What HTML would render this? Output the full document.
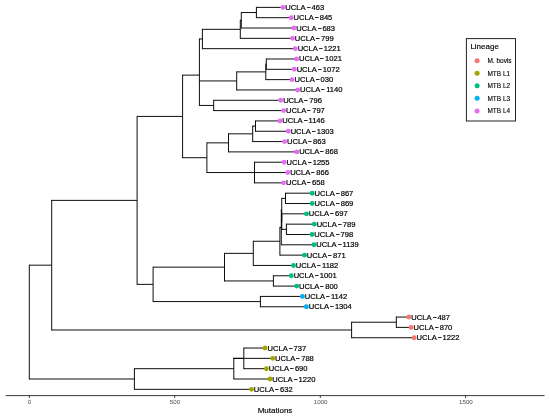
<!DOCTYPE html>
<html lang="en"><head><meta charset="utf-8"><title>Phylogenetic tree</title>
<style>
html,body{margin:0;padding:0;background:#fff}
#c{position:relative;width:550px;height:417px;overflow:hidden;background:#fff;font-family:"Liberation Sans",sans-serif;color:#000}
#c div{position:absolute;white-space:nowrap;margin:0;padding:0}
.tl{font-size:7.6px;line-height:10px;height:10px;-webkit-text-stroke:.2px #000}
.m{display:inline-block;width:.771em;text-align:center;transform:translate(-.01em,-.067em) scale(1.78,1.2);-webkit-text-stroke:.06px #000}
.tk{font-size:6.2px;line-height:8px;width:40px;text-align:center;color:#4d4d4d}
.lg{font-size:6.5px;line-height:10px;-webkit-text-stroke:.12px #000}
.lt{font-size:8px;line-height:10px;-webkit-text-stroke:.15px #000}
.xt{font-size:8px;line-height:10px;width:100px;text-align:center;-webkit-text-stroke:.15px #000}
</style></head><body>
<div id="c">
<svg width="550" height="417" viewBox="0 0 550 417" style="position:absolute;left:0;top:0">
<path d="M256.40 6.91V18.18M256.40 7.38H283.00M256.40 17.70H291.20M241.30 12.07V28.50M241.30 12.54H256.40M241.30 28.03H293.90M240.30 19.81V38.82M240.30 20.28H241.30M240.30 38.35H292.50M202.40 28.84V49.15M202.40 29.32H240.30M202.40 48.67H295.30M266.30 58.52V69.79M266.30 59.00H296.60M266.30 69.32H294.30M265.80 63.68V80.12M265.80 64.16H266.30M265.80 79.64H292.10M236.70 71.42V90.44M236.70 71.90H265.80M236.70 89.96H297.70M213.70 99.81V111.08M213.70 100.29H280.80M213.70 110.61H283.70M199.40 38.52V105.92M199.40 38.99H202.40M199.40 80.93H236.70M199.40 105.45H213.70M255.50 120.46V131.73M255.50 120.93H280.00M255.50 131.26H288.30M252.70 125.62V142.05M252.70 126.09H255.50M252.70 141.58H284.60M228.50 133.36V152.38M228.50 133.84H252.70M228.50 151.90H296.80M254.50 161.75V183.35M254.50 162.22H284.20M254.50 172.55H287.80M254.50 182.87H283.60M206.90 142.39V173.02M206.90 142.87H228.50M206.90 172.55H254.50M182.60 74.65V158.18M182.60 75.12H199.40M182.60 157.71H206.90M285.50 192.72V203.99M285.50 193.19H312.20M285.50 203.52H312.20M286.40 223.69V234.96M286.40 224.16H314.30M286.40 234.49H312.00M281.75 213.37V229.80M281.75 213.84H306.50M281.75 229.32H286.40M281.75 197.88V222.06M281.75 198.36H285.50M281.75 221.58H281.75M281.30 209.49V245.28M281.30 209.97H281.75M281.30 244.81H314.00M279.90 226.91V255.61M279.90 227.39H281.30M279.90 255.13H304.50M253.30 240.79V265.93M253.30 241.26H279.90M253.30 265.45H293.50M273.40 275.30V286.58M273.40 275.78H291.30M273.40 286.10H296.70M224.50 252.88V281.41M224.50 253.36H253.30M224.50 280.94H273.40M260.40 295.95V307.22M260.40 296.42H302.40M260.40 306.75H306.40M153.10 266.67V302.06M153.10 267.15H224.50M153.10 301.59H260.40M137.10 115.94V284.84M137.10 116.42H182.60M137.10 284.37H153.10M396.30 316.59V327.87M396.30 317.07H408.90M396.30 327.39H411.20M351.60 321.76V338.19M351.60 322.23H396.30M351.60 337.72H414.10M51.70 199.92V330.45M51.70 200.39H137.10M51.70 329.97H351.60M243.80 347.56V369.16M243.80 348.04H265.10M243.80 368.69H266.40M233.80 357.89V358.84M233.80 358.36H243.80M233.80 358.36H272.70M233.80 357.89V379.48M233.80 358.36H233.80M233.80 379.01H270.00M134.40 368.21V389.81M134.40 368.69H233.80M134.40 389.33H251.50M29.30 264.71V379.48M29.30 265.18H51.70M29.30 379.01H134.40" fill="none" stroke="#000" stroke-width="0.95"/>
<path d="M5.6 395.6H544.6" stroke="#222" stroke-width="0.9" fill="none"/>
<path d="M29.3 395.6v2.3M174.7 395.6v2.3M320.3 395.6v2.3M465.6 395.6v2.3" stroke="#222" stroke-width="0.9" fill="none"/>
<circle cx="283.00" cy="7.38" r="2.45" fill="#E76BF3"/>
<circle cx="291.20" cy="17.70" r="2.45" fill="#E76BF3"/>
<circle cx="293.90" cy="28.03" r="2.45" fill="#E76BF3"/>
<circle cx="292.50" cy="38.35" r="2.45" fill="#E76BF3"/>
<circle cx="295.30" cy="48.67" r="2.45" fill="#E76BF3"/>
<circle cx="296.60" cy="59.00" r="2.45" fill="#E76BF3"/>
<circle cx="294.30" cy="69.32" r="2.45" fill="#E76BF3"/>
<circle cx="292.10" cy="79.64" r="2.45" fill="#E76BF3"/>
<circle cx="297.70" cy="89.96" r="2.45" fill="#E76BF3"/>
<circle cx="280.80" cy="100.29" r="2.45" fill="#E76BF3"/>
<circle cx="283.70" cy="110.61" r="2.45" fill="#E76BF3"/>
<circle cx="280.00" cy="120.93" r="2.45" fill="#E76BF3"/>
<circle cx="288.30" cy="131.26" r="2.45" fill="#E76BF3"/>
<circle cx="284.60" cy="141.58" r="2.45" fill="#E76BF3"/>
<circle cx="296.80" cy="151.90" r="2.45" fill="#E76BF3"/>
<circle cx="284.20" cy="162.22" r="2.45" fill="#E76BF3"/>
<circle cx="287.80" cy="172.55" r="2.45" fill="#E76BF3"/>
<circle cx="283.60" cy="182.87" r="2.45" fill="#E76BF3"/>
<circle cx="312.20" cy="193.19" r="2.45" fill="#00BF7D"/>
<circle cx="312.20" cy="203.52" r="2.45" fill="#00BF7D"/>
<circle cx="306.50" cy="213.84" r="2.45" fill="#00BF7D"/>
<circle cx="314.30" cy="224.16" r="2.45" fill="#00BF7D"/>
<circle cx="312.00" cy="234.49" r="2.45" fill="#00BF7D"/>
<circle cx="314.00" cy="244.81" r="2.45" fill="#00BF7D"/>
<circle cx="304.50" cy="255.13" r="2.45" fill="#00BF7D"/>
<circle cx="293.50" cy="265.45" r="2.45" fill="#00BF7D"/>
<circle cx="291.30" cy="275.78" r="2.45" fill="#00BF7D"/>
<circle cx="296.70" cy="286.10" r="2.45" fill="#00BF7D"/>
<circle cx="302.40" cy="296.42" r="2.45" fill="#00B0F6"/>
<circle cx="306.40" cy="306.75" r="2.45" fill="#00B0F6"/>
<circle cx="408.90" cy="317.07" r="2.45" fill="#F8766D"/>
<circle cx="411.20" cy="327.39" r="2.45" fill="#F8766D"/>
<circle cx="414.10" cy="337.72" r="2.45" fill="#F8766D"/>
<circle cx="265.10" cy="348.04" r="2.45" fill="#A3A500"/>
<circle cx="272.70" cy="358.36" r="2.45" fill="#A3A500"/>
<circle cx="266.40" cy="368.69" r="2.45" fill="#A3A500"/>
<circle cx="270.00" cy="379.01" r="2.45" fill="#A3A500"/>
<circle cx="251.50" cy="389.33" r="2.45" fill="#A3A500"/>
<rect x="466.4" y="38.6" width="49.1" height="82.4" fill="#fff" stroke="#222" stroke-width="1"/>
<circle cx="477.1" cy="60.70" r="2.5" fill="#F8766D"/>
<circle cx="477.1" cy="73.25" r="2.5" fill="#A3A500"/>
<circle cx="477.1" cy="85.80" r="2.5" fill="#00BF7D"/>
<circle cx="477.1" cy="98.35" r="2.5" fill="#00B0F6"/>
<circle cx="477.1" cy="110.90" r="2.5" fill="#E76BF3"/>
</svg>
<div class="tl" style="left:285.35px;top:3.00px">UCLA<span class="m">-</span>463</div>
<div class="tl" style="left:293.55px;top:13.00px">UCLA<span class="m">-</span>845</div>
<div class="tl" style="left:296.25px;top:24.00px">UCLA<span class="m">-</span>683</div>
<div class="tl" style="left:294.85px;top:34.00px">UCLA<span class="m">-</span>799</div>
<div class="tl" style="left:297.65px;top:44.00px">UCLA<span class="m">-</span>1221</div>
<div class="tl" style="left:298.95px;top:54.00px">UCLA<span class="m">-</span>1021</div>
<div class="tl" style="left:296.65px;top:65.00px">UCLA<span class="m">-</span>1072</div>
<div class="tl" style="left:294.45px;top:75.00px">UCLA<span class="m">-</span>030</div>
<div class="tl" style="left:300.05px;top:85.00px">UCLA<span class="m">-</span>1140</div>
<div class="tl" style="left:283.15px;top:96.00px">UCLA<span class="m">-</span>796</div>
<div class="tl" style="left:286.05px;top:106.00px">UCLA<span class="m">-</span>797</div>
<div class="tl" style="left:282.35px;top:116.00px">UCLA<span class="m">-</span>1146</div>
<div class="tl" style="left:290.65px;top:127.00px">UCLA<span class="m">-</span>1303</div>
<div class="tl" style="left:286.95px;top:137.00px">UCLA<span class="m">-</span>863</div>
<div class="tl" style="left:299.15px;top:147.00px">UCLA<span class="m">-</span>868</div>
<div class="tl" style="left:286.55px;top:158.00px">UCLA<span class="m">-</span>1255</div>
<div class="tl" style="left:290.15px;top:168.00px">UCLA<span class="m">-</span>866</div>
<div class="tl" style="left:285.95px;top:178.00px">UCLA<span class="m">-</span>658</div>
<div class="tl" style="left:314.55px;top:189.00px">UCLA<span class="m">-</span>867</div>
<div class="tl" style="left:314.55px;top:199.00px">UCLA<span class="m">-</span>869</div>
<div class="tl" style="left:308.85px;top:209.00px">UCLA<span class="m">-</span>697</div>
<div class="tl" style="left:316.65px;top:220.00px">UCLA<span class="m">-</span>789</div>
<div class="tl" style="left:314.35px;top:230.00px">UCLA<span class="m">-</span>798</div>
<div class="tl" style="left:316.35px;top:240.00px">UCLA<span class="m">-</span>1139</div>
<div class="tl" style="left:306.85px;top:251.00px">UCLA<span class="m">-</span>871</div>
<div class="tl" style="left:295.85px;top:261.00px">UCLA<span class="m">-</span>1182</div>
<div class="tl" style="left:293.65px;top:271.00px">UCLA<span class="m">-</span>1001</div>
<div class="tl" style="left:299.05px;top:282.00px">UCLA<span class="m">-</span>800</div>
<div class="tl" style="left:304.75px;top:292.00px">UCLA<span class="m">-</span>1142</div>
<div class="tl" style="left:308.75px;top:302.00px">UCLA<span class="m">-</span>1304</div>
<div class="tl" style="left:411.25px;top:313.00px">UCLA<span class="m">-</span>487</div>
<div class="tl" style="left:413.55px;top:323.00px">UCLA<span class="m">-</span>870</div>
<div class="tl" style="left:416.45px;top:333.00px">UCLA<span class="m">-</span>1222</div>
<div class="tl" style="left:267.45px;top:344.00px">UCLA<span class="m">-</span>737</div>
<div class="tl" style="left:275.05px;top:354.00px">UCLA<span class="m">-</span>788</div>
<div class="tl" style="left:268.75px;top:364.00px">UCLA<span class="m">-</span>690</div>
<div class="tl" style="left:272.35px;top:375.00px">UCLA<span class="m">-</span>1220</div>
<div class="tl" style="left:253.85px;top:385.00px">UCLA<span class="m">-</span>632</div>
<div class="tk" style="left:9.60px;top:397.85px">0</div>
<div class="tk" style="left:155.00px;top:397.85px">500</div>
<div class="tk" style="left:300.60px;top:397.85px">1000</div>
<div class="tk" style="left:445.90px;top:397.85px">1500</div>
<div class="lg" style="left:487.4px;top:56.00px">M. bovis</div>
<div class="lg" style="left:487.4px;top:68.55px">MTB L1</div>
<div class="lg" style="left:487.4px;top:81.10px">MTB L2</div>
<div class="lg" style="left:487.4px;top:93.65px">MTB L3</div>
<div class="lg" style="left:487.4px;top:106.20px">MTB L4</div>
<div class="lt" style="left:470.4px;top:42px">Lineage</div>
<div class="xt" style="left:225px;top:405.7px">Mutations</div>
</div>
</body></html>
